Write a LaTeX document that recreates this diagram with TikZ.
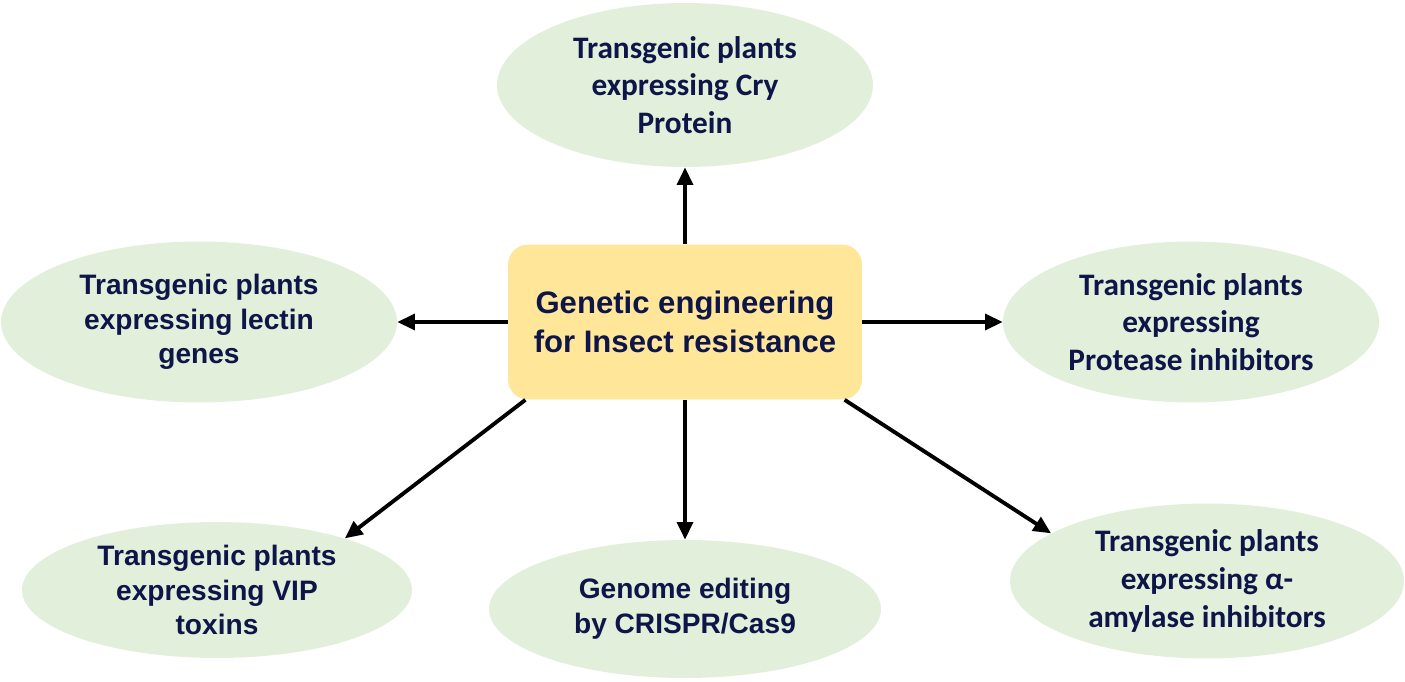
\documentclass[tikz,border=0pt]{standalone}
\usepackage{fontspec}
\setmainfont{Liberation Sans}
\newfontfamily\calibri{Carlito}
\usepackage{tikz}
\usetikzlibrary{positioning,shapes.geometric,arrows.meta}
\definecolor{navy} {HTML}{0E1548}
\definecolor{sand} {HTML}{FFE699}
\definecolor{sage} {HTML}{E2EFDA}
\definecolor{ink}  {HTML}{000000}
\tikzset{
  % --- nodes
  hub/.style   = {rounded corners=0.4cm, fill=sand, align=center, inner sep=0pt,
                  minimum width=7.08cm, minimum height=3.1cm, text=navy,
                  font=\fontsize{17.7}{21.8}\selectfont\bfseries},
  leaf/.style  = {ellipse, fill=sage, align=center, inner sep=0pt, text=navy,
                  font=\fontsize{16}{19.8}\selectfont\bfseries},
  leafc/.style = {leaf, font=\calibri\fontsize{17.8}{21.5}\selectfont\bfseries},
  % --- edges
  e/.style     = {-{Triangle[length=10pt,width=9pt]}, line width=2.2pt, draw=ink},
}

\begin{document}
\begin{tikzpicture}[x=0.02cm, y=-0.02cm]
  \useasboundingbox (0,0) rectangle (1405,682);

  \node[hub] (hub) at (685,322) {Genetic engineering\\for Insect resistance};

  \node[leafc, minimum width=7.52cm, minimum height=3.28cm] (cry) at (685,85)
    {Transgenic plants\\expressing Cry\\Protein};
  \node[leaf, minimum width=7.92cm, minimum height=3.22cm] (lectin) at (199,322)
    {Transgenic plants\\expressing lectin\\genes};
  \node[leafc, minimum width=7.52cm, minimum height=3.22cm] (protease) at (1191,322)
    {Transgenic plants\\expressing\\Protease inhibitors};
  \node[leaf, minimum width=7.8cm, minimum height=2.72cm] (vip) at (217,590)
    {Transgenic plants\\expressing VIP\\toxins};
  \node[leaf, minimum width=7.84cm, minimum height=2.76cm] (crispr) at (685,609)
    {Genome editing\\by CRISPR/Cas9};
  \node[leafc, minimum width=7.88cm, minimum height=3.1cm] (amylase) at (1207,581)
    {Transgenic plants\\expressing α-\\amylase inhibitors};

  \draw[e] (hub.north) -- (cry.south);
  \draw[e] (hub.west) -- (lectin.east);
  \draw[e] (hub.east) -- (protease.west);
  \draw[e] (hub.south) -- (crispr.north);
  \draw[e] (hub.206) -- (vip.22);
  \draw[e] (hub.-26) -- (amylase.163);
\end{tikzpicture}
\end{document}
